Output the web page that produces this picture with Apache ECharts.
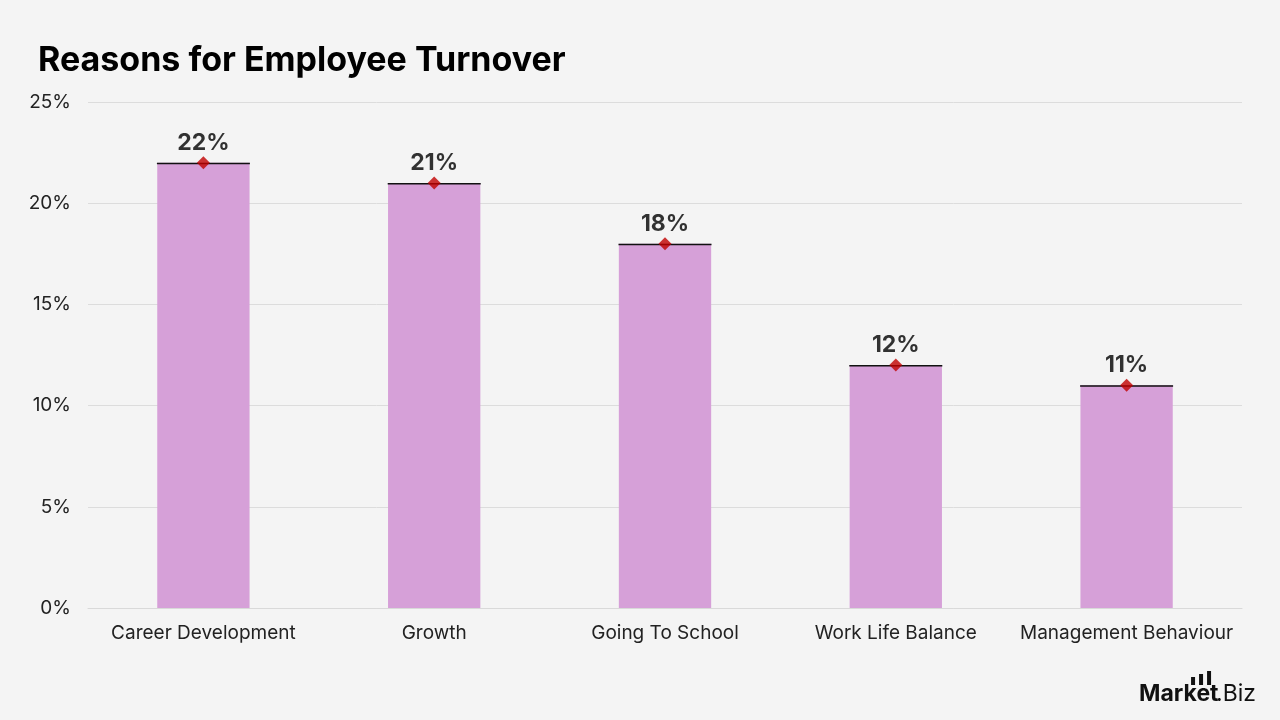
<!DOCTYPE html>
<html>
<head>
<meta charset="UTF-8">
<title>Reasons for Employee Turnover</title>
<style>
  html, body { margin: 0; padding: 0; background: #f4f4f4; }
  #main { width: 1280px; height: 720px; }
</style>
<script src="https://cdn.jsdelivr.net/npm/echarts@6/dist/echarts.min.js"></script>
</head>
<body>
<div id="main"></div>
<script>
var categories = ['Career Development', 'Growth', 'Going To School', 'Work Life Balance', 'Management Behaviour'];
var shares = [22, 21, 18, 12, 11];
var yTicks = [0, 5, 10, 15, 20, 25];

var chart = echarts.init(document.getElementById('main'));
var font = 'Inter, "Noto Sans", sans-serif';

var option = {
  backgroundColor: '#f4f4f4',
  animation: false,
  title: {
    text: 'Reasons for Employee Turnover',
    left: 33, top: 39,
    textStyle: { fontFamily: font, fontSize: 34, fontWeight: 'bold', color: '#000' }
  },
  grid: { left: 88, right: 38, top: 102, bottom: 112 },
  xAxis: {
    type: 'category',
    data: categories,
    axisLine: { show: true, lineStyle: { color: '#d9d9d9' } },
    axisTick: { show: false },
    axisLabel: { interval: 0, fontFamily: font, fontSize: 19, color: '#222', margin: 16 }
  },
  yAxis: {
    type: 'value',
    min: yTicks[0], max: yTicks[yTicks.length - 1], interval: 5,
    axisLine: { show: false },
    axisTick: { show: false },
    splitLine: { lineStyle: { color: '#dcdcdc' } },
    axisLabel: { fontFamily: font, fontSize: 19, color: '#222', margin: 17, formatter: '{value}%' }
  },
  series: [
    {
      type: 'bar',
      data: shares,
      barWidth: '40%',
      itemStyle: { color: '#d6a0d8' }
    },
    {
      // thin dark cap on top of each bar
      type: 'pictorialBar',
      data: shares,
      symbol: 'rect',
      symbolSize: [93, 1.5],
      symbolPosition: 'end',
      barGap: '-100%',
      itemStyle: { color: '#111' },
      z: 3
    },
    {
      type: 'scatter',
      data: shares,
      symbol: 'diamond',
      symbolSize: 13,
      itemStyle: { color: '#c00000' },
      z: 4,
      label: {
        show: true, position: 'top', distance: 2,
        formatter: '{c}%',
        fontFamily: font, fontSize: 23, fontWeight: 'bold', color: '#000'
      }
    }
  ],
  graphic: [
    {
      type: 'group', right: 24, bottom: 14,
      children: [
        { type: 'text', left: 0, top: 10, style: { text: 'Market', fontFamily: font, fontSize: 23, fontWeight: 'bold', fill: '#111' } },
        { type: 'text', left: 77, top: 10, style: { text: '.Biz', fontFamily: font, fontSize: 23, fill: '#111' } },
        { type: 'rect', shape: { x: 52, y: 4, width: 4, height: 8 }, style: { fill: '#111' } },
        { type: 'rect', shape: { x: 60, y: 1, width: 4, height: 11 }, style: { fill: '#111' } },
        { type: 'rect', shape: { x: 68, y: -2, width: 4, height: 14 }, style: { fill: '#111' } }
      ]
    }
  ]
};

chart.setOption(option);
</script>
</body>
</html>
